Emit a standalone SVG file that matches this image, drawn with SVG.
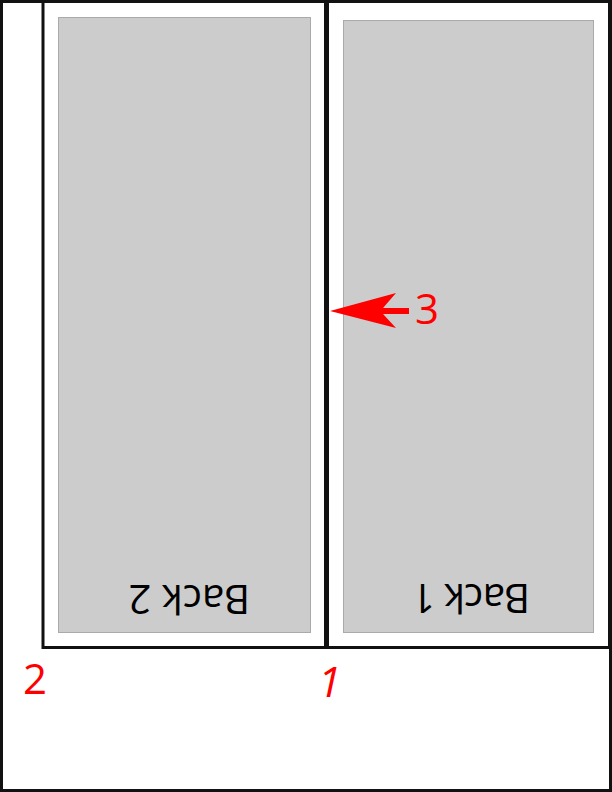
<svg xmlns="http://www.w3.org/2000/svg" width="612" height="792" viewBox="0 0 612 792">
<style>
.frame{fill:none;stroke:#111;stroke-width:3}
.panel{fill:#fff;stroke:#111;stroke-width:3}
.gray{fill:#cccccc;stroke:#aaaaaa;stroke-width:1}
.back{font-family:"Open Sans","Liberation Sans",sans-serif;font-size:40px;fill:#000}
.red{font-family:"Open Sans","Liberation Sans",sans-serif;font-size:42px;fill:#ff0000}
.arrow{fill:#ff0000;stroke:none}
</style>
<rect id="outer" class="frame" x="1.5" y="1.5" width="609" height="789"/>
<g id="panel-back2">
<rect class="panel" x="43" y="1.5" width="282.5" height="646"/>
<rect class="gray" x="58.5" y="17.5" width="252" height="615"/>
<text class="back" transform="translate(250,585) rotate(180)" x="0" y="0">Back 2</text>
</g>
<g id="panel-back1">
<rect class="panel" x="327.5" y="1.5" width="282" height="646"/>
<rect class="gray" x="343.5" y="20.5" width="250" height="612"/>
<text class="back" transform="translate(530,584) rotate(180)" x="0" y="0" textLength="118" lengthAdjust="spacing">Back 1</text>
</g>
<g id="labels">
<text class="red" x="23" y="694">2</text>
<text class="red" x="318" y="697" font-style="italic">1</text>
<text class="red" x="415" y="324">3</text>
</g>
<g id="connectors">
<path class="arrow" d="M330,311 L396,293 L383,308 L409,308 L409,314 L383,314 L396,328 Z"/>
</g>
</svg>
